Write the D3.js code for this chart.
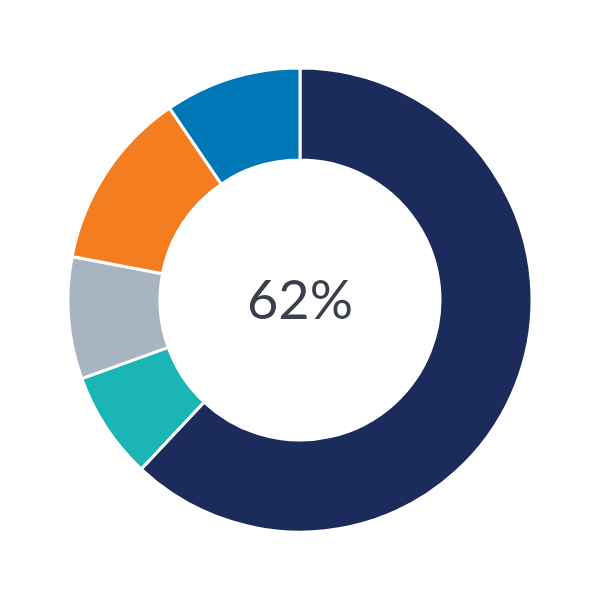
<!DOCTYPE html>
<html>
<head>
<meta charset="utf-8">
<script src="https://cdn.jsdelivr.net/npm/d3@7"></script>
<style>
  html, body { margin: 0; padding: 0; background: #fff; }
  svg { display: block; }
</style>
</head>
<body>
<svg id="chart" width="600" height="600"></svg>
<script>
// Share breakdown, clockwise from 12 o'clock
const categories = ["Main", "Teal", "Grey", "Orange", "Blue"];
const values = [62, 7.5, 8.5, 12.5, 9.5];
const colors = ["#1b2b5b", "#1bb5b5", "#a9b4c2", "#f47d20", "#0077b6"];
const centerLabel = "62%";

const svg = d3.select("#chart");
const W = 600, H = 600;
const outerR = 232, innerR = 140;

const g = svg.append("g").attr("transform", `translate(${W / 2},${H / 2})`);

const pie = d3.pie().sort(null).value(d => d.value);
const arc = d3.arc().innerRadius(innerR).outerRadius(outerR);

const data = categories.map((c, i) => ({ name: c, value: values[i], color: colors[i] }));

g.selectAll("path")
  .data(pie(data))
  .join("path")
  .attr("d", arc)
  .attr("fill", d => d.data.color)
  .attr("stroke", "#fff")
  .attr("stroke-width", 3)
  .attr("stroke-linejoin", "miter");

g.append("text")
  .attr("text-anchor", "middle")
  .attr("dy", "0.35em")
  .attr("font-family", "Lato, 'Open Sans', sans-serif")
  .attr("font-weight", 400)
  .attr("font-size", 54)
  .attr("fill", "#3a3f4b")
  .text(centerLabel);
</script>
</body>
</html>
